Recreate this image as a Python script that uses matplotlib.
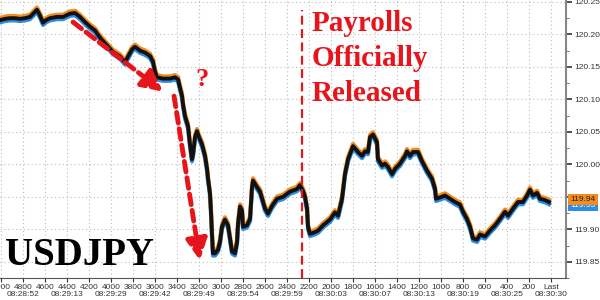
import matplotlib
matplotlib.use("Agg")
import matplotlib.pyplot as plt
import matplotlib.transforms as mtransforms
import numpy as np

# ticks counted back from the last print, and the mid price
ticks_to_last = [5009, 4964, 4918, 4873, 4827, 4782, 4736, 4691, 4673, 4645,
                 4618, 4591, 4555, 4491, 4436, 4373, 4327, 4282, 4236, 4191,
                 4145, 4100, 4036, 3982, 3918, 3873, 3845, 3809, 3782, 3736,
                 3691, 3645, 3618, 3600, 3582, 3527, 3464, 3418, 3391, 3373,
                 3354, 3345, 3327, 3300, 3282, 3264, 3254, 3236, 3218, 3200,
                 3173, 3145, 3127, 3118, 3100, 3091, 3082, 3073, 3054, 3027,
                 3009, 2991, 2964, 2936, 2918, 2900, 2873, 2854, 2845, 2827,
                 2809, 2800, 2764, 2736, 2718, 2709, 2673, 2645, 2600, 2573,
                 2536, 2491, 2436, 2373, 2309, 2282, 2254, 2236, 2218, 2209,
                 2191, 2154, 2118, 2073, 2009, 1964, 1936, 1900, 1873, 1845,
                 1800, 1754, 1718, 1691, 1664, 1645, 1618, 1582, 1573, 1536,
                 1509, 1482, 1445, 1418, 1373, 1327, 1309, 1282, 1254, 1209,
                 1173, 1127, 1082, 1054, 1045, 1009, 964, 918, 873, 827,
                 800, 764, 736, 709, 673, 645, 600, 555, 509, 464,
                 418, 391, 345, 300, 255, 218, 191, 164, 127, 100,
                 55, 18]
usdjpy_mid = [120.222, 120.224, 120.225, 120.225, 120.224, 120.225, 120.227, 120.235, 120.238, 120.229,
              120.218, 120.222, 120.225, 120.227, 120.227, 120.232, 120.233, 120.227, 120.219, 120.212,
              120.206, 120.195, 120.183, 120.173, 120.166, 120.157, 120.166, 120.177, 120.181, 120.175,
              120.172, 120.167, 120.158, 120.143, 120.134, 120.132, 120.132, 120.134, 120.131, 120.118,
              120.105, 120.092, 120.074, 120.059, 120.031, 120.008, 120.016, 120.042, 120.051, 120.042,
              120.031, 120.013, 119.993, 119.978, 119.955, 119.927, 119.893, 119.863, 119.863, 119.869,
              119.881, 119.904, 119.915, 119.906, 119.886, 119.866, 119.863, 119.881, 119.909, 119.935,
              119.929, 119.904, 119.906, 119.916, 119.965, 119.975, 119.965, 119.958, 119.932, 119.924,
              119.936, 119.947, 119.950, 119.958, 119.962, 119.968, 119.959, 119.950, 119.932, 119.904,
              119.893, 119.895, 119.898, 119.906, 119.915, 119.926, 119.921, 119.947, 119.985, 120.008,
              120.028, 120.019, 120.013, 120.020, 120.019, 120.042, 120.046, 120.034, 120.008, 119.998,
              120.001, 119.996, 119.985, 119.993, 120.001, 120.013, 120.020, 120.013, 120.019, 120.019,
              120.005, 119.990, 119.978, 119.962, 119.947, 119.949, 119.952, 119.947, 119.942, 119.938,
              119.927, 119.916, 119.904, 119.886, 119.884, 119.892, 119.889, 119.898, 119.906, 119.916,
              119.927, 119.921, 119.932, 119.942, 119.942, 119.952, 119.961, 119.952, 119.956, 119.947,
              119.945, 119.942]

tick_positions = list(range(5000, -1, -200))
tick_numbers = ["5000", "4800", "4600", "4400", "4200", "4000", "3800", "3600", "3400",
                "3200", "3000", "2800", "2600", "2400", "2200", "2000", "1800", "1600",
                "1400", "1200", "1000", "800", "600", "400", "200", "Last"]
tick_times = ["", "08:28:52", "", "08:29:13", "", "08:29:29", "", "08:29:42", "",
              "08:29:49", "", "08:29:54", "", "08:29:59", "", "08:30:03", "", "08:30:07",
              "", "08:30:13", "", "08:30:19", "", "08:30:25", "", "08:30:30"]
price_ticks = [119.85, 119.90, 119.95, 120.00, 120.05, 120.10, 120.15, 120.20, 120.25]
release_tick = 2264
last_ask = "119.94"
last_bid = "119.93"

ORANGE = "#F28C1E"
BLUE = "#2B8DE6"
RED = "#E8141B"

fig = plt.figure(figsize=(6, 3), dpi=100)
ax = fig.add_axes([0, 0.0733, 0.9433, 0.9267])

# ask / bid fringe drawn as the same path nudged up and down
up = mtransforms.offset_copy(ax.transData, fig=fig, x=0, y=1.6, units="points")
down = mtransforms.offset_copy(ax.transData, fig=fig, x=0, y=-1.6, units="points")
ax.plot(ticks_to_last, usdjpy_mid, color=BLUE, lw=3.0, transform=down, solid_joinstyle="round", zorder=3)
ax.plot(ticks_to_last, usdjpy_mid, color=ORANGE, lw=3.0, transform=up, solid_joinstyle="round", zorder=3)
ax.plot(ticks_to_last, usdjpy_mid, color="#111111", lw=2.8, solid_joinstyle="round", zorder=4)

ax.set_xlim(5009, -136)
ax.set_ylim(119.828, 120.253)

ax.set_xticks(tick_positions)
ax.set_xticklabels(tick_numbers, fontsize=6, family="Liberation Sans", color="#333333")
# second row of x labels: clock time
below = mtransforms.blended_transform_factory(ax.transData, ax.transAxes)
for pos, t in zip(tick_positions, tick_times):
    if t:
        ax.text(pos, -0.058, t, transform=below, fontsize=6, family="Liberation Sans",
                color="#333333", ha="center", va="center", clip_on=False)

ax.yaxis.tick_right()
ax.set_yticks(price_ticks)
# the 119.95 label sits under the last-price tags
ax.set_yticklabels(["" if p == 119.95 else f"{p:.2f}" for p in price_ticks],
                   fontsize=6, family="Liberation Sans", color="#333333")
ax.set_yticks(np.arange(119.825, 120.26, 0.025), minor=True)
ax.tick_params(axis="x", length=3, pad=1.5, color="#333333")
ax.tick_params(axis="y", which="major", length=4, width=1.2, pad=2, color="#333333")
ax.tick_params(axis="y", which="minor", length=2.5, color="#555555")

ax.grid(True, color="#bbbbbb", linestyle=(0, (1, 2.5)), lw=0.8, zorder=0)
for s in ["left", "top"]:
    ax.spines[s].set_visible(False)
ax.spines["right"].set_color("#888888")
ax.spines["right"].set_linewidth(1.5)
ax.spines["bottom"].set_color("#555555")

# release marker and annotations
ax.axvline(release_tick, ymin=0, ymax=0.965, color=RED, lw=1.6, ls=(0, (4, 2)), zorder=5)
ax.text(2173, 120.238, "Payrolls\nOfficially\nReleased", color=RED, fontsize=21,
        family="Liberation Serif", weight="bold", va="top", ha="left", linespacing=1.38)
ax.text(3173, 120.130, "?", color=RED, fontsize=19, family="Liberation Serif",
        weight="bold", ha="center", va="center")
ax.text(4964, 119.845, "USDJPY", color="black", fontsize=28, family="Liberation Serif",
        weight="bold", ha="left", va="baseline", zorder=6)

arrow = dict(arrowstyle="-|>,head_length=0.9,head_width=0.45", color=RED, lw=3.5,
             linestyle=(0, (2.2, 1.2)), mutation_scale=14, shrinkA=0, shrinkB=0)
ax.annotate("", xy=(3527, 120.112), xytext=(4345, 120.219), arrowprops=arrow, zorder=6)
ax.annotate("", xy=(3191, 119.852), xytext=(3427, 120.105), arrowprops=arrow, zorder=6)

# last price tags on the axis
tag = mtransforms.blended_transform_factory(ax.transAxes, ax.transData)
ax.text(1.008, 119.937, last_bid, transform=tag, fontsize=6, family="Liberation Sans",
        color="white", va="center", ha="left", clip_on=False, zorder=7,
        bbox=dict(boxstyle="square,pad=0.25", fc=BLUE, ec="none"))
ax.text(1.008, 119.946, last_ask, transform=tag, fontsize=6, family="Liberation Sans",
        color="#222222", va="center", ha="left", clip_on=False, zorder=8,
        bbox=dict(boxstyle="square,pad=0.25", fc=ORANGE, ec="none"))

fig.savefig("out.png", dpi=100)
